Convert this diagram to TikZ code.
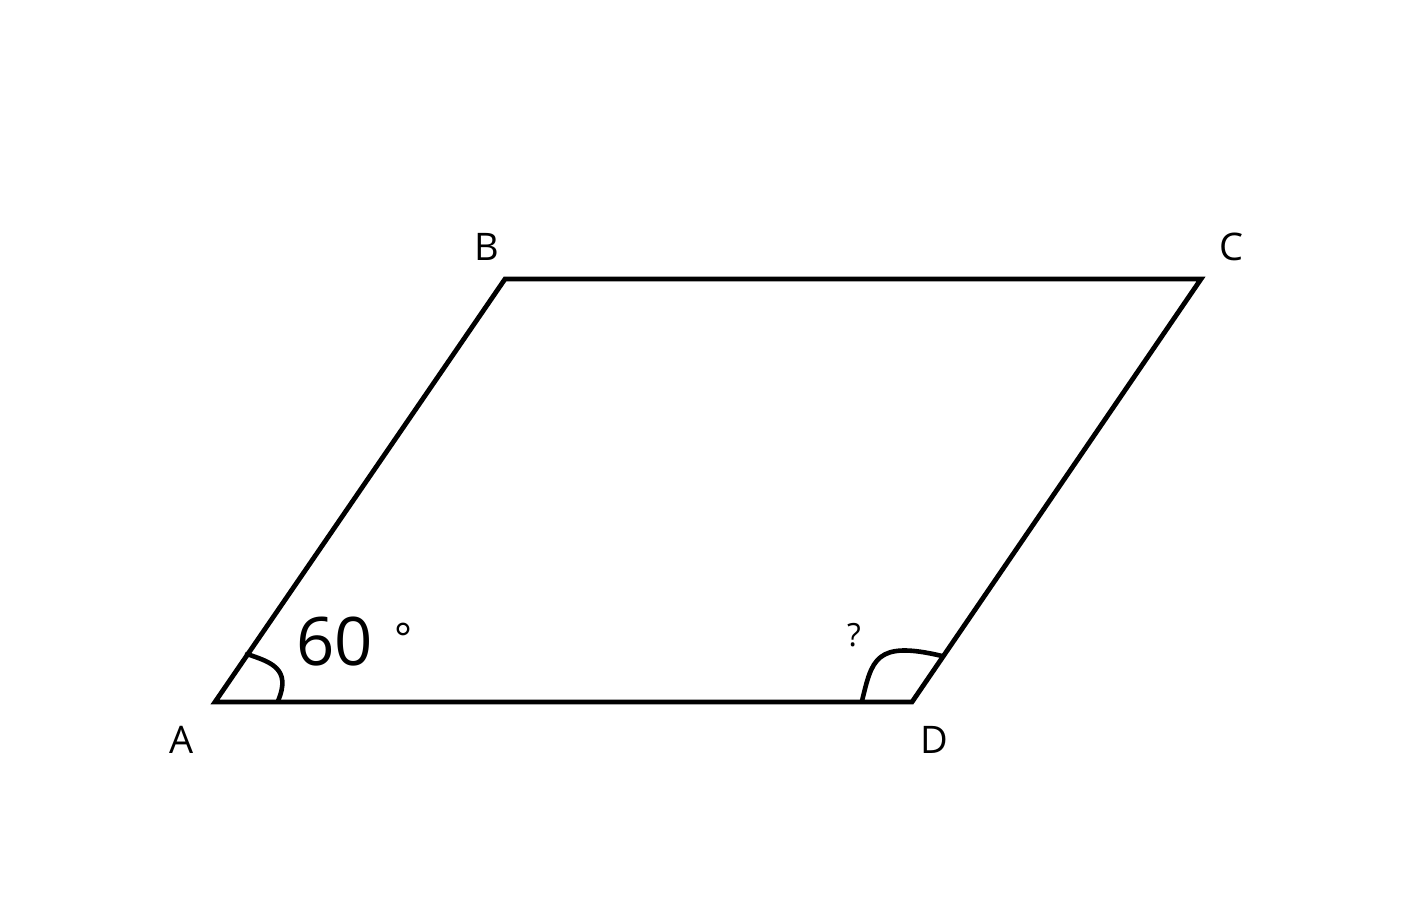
\documentclass[tikz,border=0pt]{standalone}
\usepackage{fontspec}
\setmainfont{Open Sans}
\begin{document}
\begin{tikzpicture}[x=1pt,y=-1pt,
  edge/.style={line width=4.8pt,line join=miter},
  anglemark/.style={line width=4.6pt,line cap=round},
  lbl/.style={inner sep=0pt,font=\fontsize{38}{40}\selectfont}]
\useasboundingbox[fill=white] (0,0) rectangle (1420,904);
\coordinate (A) at (215,702);
\coordinate (B) at (505,279);
\coordinate (C) at (1201,279);
\coordinate (D) at (912,702);
\draw[edge] (A) -- (B) -- (C) -- (D) -- cycle;
\coordinate (a1) at (247,654);
\coordinate (a2) at (278,701);
\draw[anglemark] (a1) .. controls (270,662) and (292,668) .. (a2);
\coordinate (d1) at (862,701);
\coordinate (d2) at (942,656);
\draw[anglemark] (d1) .. controls (872,660) and (875,640) .. (d2);
\node[lbl] (lA) at (182,740) {A};
\node[lbl] (lB) at (487,247) {B};
\node[lbl] (lC) at (1231,247) {C};
\node[lbl] (lD) at (934,740) {D};
\node[lbl,anchor=west,font=\fontsize{67}{69}\selectfont] (ang) at (296,642) {60};
\node[lbl,font=\fontsize{42}{44}\selectfont] (deg) at (403,638) {°};
\node[lbl,font=\fontsize{32}{34}\selectfont] (q) at (854,635) {?};
\end{tikzpicture}
\end{document}
